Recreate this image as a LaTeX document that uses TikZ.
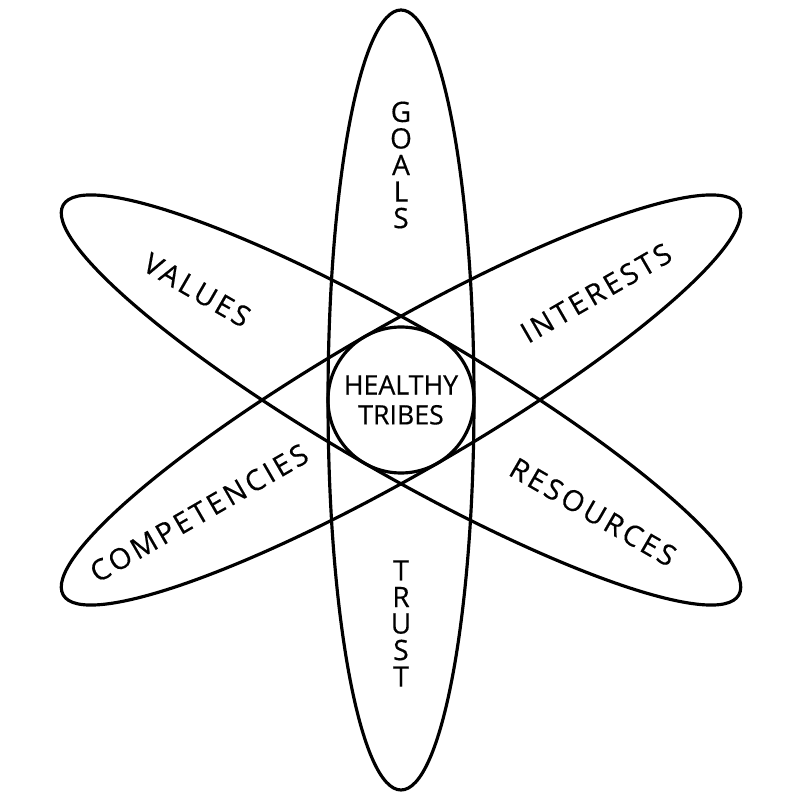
\documentclass[tikz,border=0pt]{standalone}
\usepackage{fontspec}
\setmainfont{Open Sans}[FakeBold=0.4]

\begin{document}
\begin{tikzpicture}[
    orbit/.style={draw, line width=0.9pt},
    word/.style={inner sep=0pt, font=\fontsize{8.2}{9}\selectfont\addfontfeature{LetterSpace=11}},
    tower/.style={inner sep=0pt, align=center, font=\fontsize{8}{7.55}\selectfont}
  ]
  \useasboundingbox (-4.01,-4) rectangle (3.99,4);
  \coordinate (c) at (0,0);
  \foreach \ang in {0,60,-60}
    \draw[orbit, rotate around={\ang:(c)}] (c) ellipse [x radius=0.73, y radius=3.9];
  \node[orbit, circle, minimum size=1.46cm, inner sep=0pt, align=center,
        font=\fontsize{7.6}{8.5}\selectfont] (hub) at (c) {HEALTHY\\TRIBES};
  \node[tower] (goals) at (0,2.35) {G\\O\\A\\L\\S};
  \node[tower] (trust) at (0,-2.235) {T\\R\\U\\S\\T};
  \node[word, rotate=-30] (values) at (-2.04,1.10) {VALUES};
  \node[word, rotate=30] (interests) at (1.95,1.07) {INTERESTS};
  \node[word, rotate=30] (competencies) at (-2.02,-1.13) {COMPETENCIES};
  \node[word, rotate=-30] (resources) at (1.92,-1.12) {RESOURCES};
\end{tikzpicture}
\end{document}
